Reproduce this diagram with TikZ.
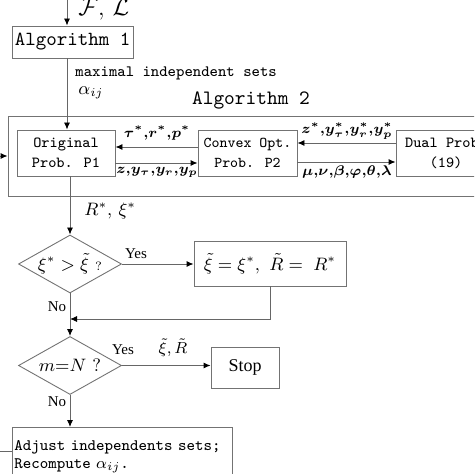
\documentclass[tikz,border=0pt]{standalone}
\usepackage{amsmath,bm}
\usepackage{fontspec}
\newfontfamily\labelfont{Liberation Serif}
\usepackage{tikz}
\usetikzlibrary{arrows.meta,positioning,shapes.geometric}

\begin{document}
\begin{tikzpicture}[
    x=0.5pt, y=-0.5pt,
    line width=0.45pt,
    font=\ttfamily\fontsize{7.7}{10}\selectfont,
    proc/.style={draw=black!55, inner sep=1pt, align=center},
    cond/.style={diamond, aspect=1.8, draw=black!55, inner sep=0pt, minimum width=51.5pt, minimum height=29pt, font=\fontsize{9}{10}\selectfont},
    arr/.style={draw=black!60, -{Latex[length=3.5pt,width=3pt,black]}},
    link/.style={draw=black!60},
    mlab/.style={font=\fontsize{7}{8}\selectfont, inner sep=1pt},
    yn/.style={font=\labelfont\fontsize{7.5}{9}\selectfont, inner sep=1pt},
  ]
    \useasboundingbox (0,0) rectangle (474,474);
    \clip (0,0) rectangle (474,474);

    \node[proc, minimum width=60.5pt, minimum height=16pt, font=\ttfamily\fontsize{10}{12}\selectfont] (alg1) at (72.5,42) {Algorithm 1};
    \node[anchor=west, inner sep=0pt, font=\fontsize{12}{14}\selectfont] (inputs) at (78,10) {$\mathcal{F},\,\mathcal{L}$};
    \node[anchor=west, inner sep=0pt, font=\ttfamily\fontsize{7.9}{9}\selectfont] (mis) at (75,73) {maximal independent sets};
    \node[anchor=west, inner sep=0pt, font=\fontsize{9}{11}\selectfont] (alpha) at (78,93) {$\alpha_{ij}$};

    % Algorithm 2 block
    \node[proc, minimum width=249pt, minimum height=40pt] (alg2) at (257,156) {};
    \node[font=\ttfamily\fontsize{10.2}{12}\selectfont] (alg2title) at (251,100) {Algorithm 2};
    \node[proc, minimum width=49pt, minimum height=23pt] (orig) at (66,153) {Original\\Prob. P1};
    \node[proc, minimum width=49.5pt, minimum height=23pt, font=\ttfamily\fontsize{7.5}{10}\selectfont] (cvx) at (247.5,153) {Convex Opt.\\Prob. P2};
    \node[proc, minimum width=50pt, minimum height=23pt] (dual) at (446,153) {Dual Prob.\\(19)};

    \node[mlab] (lab1) at (157,133) {$\boldsymbol{\tau^*{,}r^*{,}p^*}$};
    \node[mlab] (lab2) at (157,172) {$\boldsymbol{z{,}y_\tau{,}y_r{,}y_p}$};
    \node[mlab] (lab3) at (347,131) {$\boldsymbol{z^*{,}y_\tau^*{,}y_r^*{,}y_p^*}$};
    \node[mlab] (lab4) at (347,172) {$\boldsymbol{\mu{,}\nu{,}\beta{,}\varphi{,}\theta{,}\lambda}$};

    \coordinate (start) at (67,0);
    \coordinate (back) at (0,156);
    \draw[arr] (start) -- (start |- alg1.north);
    \draw[arr] (start |- alg1.south) -- (start |- orig.north);
    \draw[arr] (back) -- (alg2.west);

    \draw[arr] ([yshift=3pt]cvx.west) -- ([yshift=3pt]orig.east);
    \draw[arr] ([yshift=-5pt]orig.east) -- ([yshift=-5pt]cvx.west);
    \draw[arr] ([yshift=5pt]dual.west) -- ([yshift=5pt]cvx.east);
    \draw[arr] ([yshift=-4.5pt]cvx.east) -- ([yshift=-4.5pt]dual.west);

    % decisions
    \node[cond] (dec1) at (70,264) {$\xi^* > \tilde{\xi}$ {\fontsize{6}{7}\selectfont ?}};
    \node[mlab, anchor=west, font=\fontsize{9}{11}\selectfont] (rxi) at (82,211) {$R^*$, $\xi^*$};
    \draw[arr] (orig.south -| dec1) -- (dec1.north);

    \node[proc, minimum width=76pt, minimum height=22.5pt, font=\fontsize{9}{10}\selectfont] (upd) at (270,263.5) {$\tilde{\xi}=\xi^*,\ \tilde{R}=\;R^*$};
    \node[yn] (yes1) at (136,254) {Yes};
    \draw[arr] (dec1.east) -- (dec1.east -| upd.west);

    \coordinate (merge) at (70,319);
    \draw[arr] (upd.south) |- (merge);
    \node[yn] (no1) at (57,307) {No};

    \node[cond] (dec2) at (70,365.5) {$m{=}N$ ?};
    \draw[arr] (dec1.south) -- (dec2.north);

    \node[proc, minimum width=34pt, minimum height=20.5pt, font=\labelfont\fontsize{9}{10}\selectfont] (stop) at (245,367.5) {Stop};
    \node[yn] (yes2) at (123,350) {Yes};
    \node[mlab, font=\fontsize{8.5}{10}\selectfont] (res) at (173,348) {$\tilde{\xi},\tilde{R}$};
    \draw[arr] (dec2.east) -- (dec2.east -| stop.west);

    \node[yn] (no2) at (57,402) {No};
    \node[proc, anchor=north west, minimum height=29pt, align=left, text width=108pt, font=\ttfamily\fontsize{8}{9}\selectfont] (adj) at (12,427) {Adjust independents sets;\\Recompute $\alpha_{ij}$.};
    \draw[arr] (dec2.south) -- (adj.north -| dec2);

    \coordinate (loopout) at (0,451);
    \draw[link] (loopout) -- (loopout -| adj.west);
  \end{tikzpicture}
\end{document}
